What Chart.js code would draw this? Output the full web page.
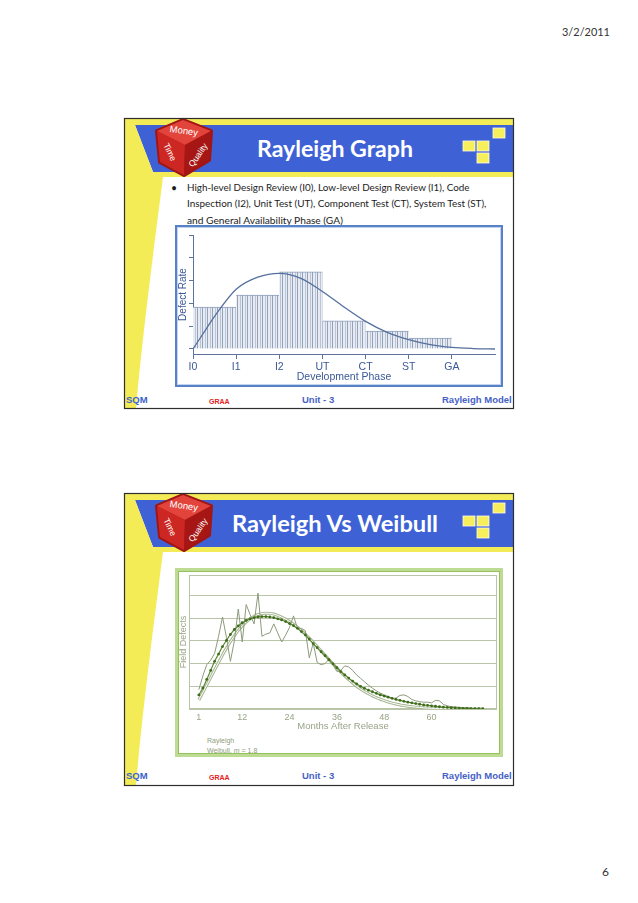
<!DOCTYPE html>
<html>
<head>
<meta charset="utf-8">
<title>Rayleigh Model</title>
<script src="https://cdn.jsdelivr.net/npm/chart.js@4.4.1/dist/chart.umd.min.js"></script>
<style>
html, body { margin:0; padding:0; }
body { width:638px; height:903px; position:relative; overflow:hidden; background:#fff; font-family:Lato, "Open Sans", sans-serif; }
.t { position:absolute; white-space:nowrap; line-height:1; transform:translateY(-50%); }
.c { transform:translate(-50%,-50%); }
.ttl { color:#fff; font-weight:700; font-size:22px; }
.bul { color:#1c1c1c; font-size:10.5px; }
.ft { font-family:"Liberation Sans", Arial, sans-serif; font-weight:700; font-size:9.5px; color:#4661c6; }
.sqm { color:#3a63c8; }
.graa { color:#e3211d; font-size:7px; }
.box { position:absolute; box-sizing:border-box; background:#fff; }
#b1 { left:175px; top:225px; width:328px; height:162px; border:2px solid #5782c7; box-shadow:inset 0 0 0 1px #c4d4ee; }
#b2 { left:175px; top:568px; width:328px; height:189px; border:3px solid #bddb93; box-shadow:inset 0 0 0 1px #93c25b; }
canvas { position:absolute; }
.lg { font-family:"Liberation Sans", Arial, sans-serif; font-size:7px; color:#8f9c7d; }
</style>
</head>
<body>

<svg width="638" height="903" style="position:absolute;left:0;top:0">
  <defs>
    <g id="cube">
      <path d="M28,2 L56,13 L54,42 L29,57 L5,44 L2,13 Z" fill="#b81c1a" stroke="#a01614" stroke-width="4" stroke-linejoin="round"/>
      <path d="M28,2 L56,13 L30,27 L2,13 Z" fill="#e2433a"/>
      <path d="M2,13 L30,27 L29,57 L5,44 Z" fill="#cc2722"/>
      <path d="M30,27 L56,13 L54,42 L29,57 Z" fill="#a51614"/>
      <text x="29" y="16" font-family="Liberation Sans, Arial" font-size="9.5" fill="#fff" text-anchor="middle" transform="rotate(8 29 12)">Money</text>
      <text x="15" y="37" font-family="Liberation Sans, Arial" font-size="8.5" fill="#fff" text-anchor="middle" transform="rotate(64 15 34)">Time</text>
      <text x="43" y="40" font-family="Liberation Sans, Arial" font-size="8.5" fill="#fff" text-anchor="middle" transform="rotate(-55 43 37)">Quality</text>
    </g>
    <g id="squares" fill="#f6ee5a" stroke="#fffbe0" stroke-width="0.8">
      <rect x="493" y="128" width="12" height="10"/>
      <rect x="463" y="141" width="12" height="10"/>
      <rect x="477" y="141" width="12" height="10"/>
      <rect x="477" y="153" width="12" height="10"/>
    </g>
  </defs>

  <!-- slide 1 -->
  <rect x="124.5" y="118.5" width="389" height="290" fill="#fff"/>
  <rect x="125" y="119" width="388" height="6" fill="#f4ec57"/>
  <polygon points="135,125 513,125 513,172 153,172" fill="#3e62d6"/>
  <polygon points="153,172 513,172 513,177 155,177" fill="#f4ec57"/>
  <path d="M125,119 L135,119 L135,125 L153,172 L155,177 L163,177 C155,240 143,330 136,408 L125,408 Z" fill="#f4ec57"/>
  <use href="#squares"/>
  <use href="#cube" x="155" y="118"/>
  <rect x="124.5" y="118.5" width="389" height="290" fill="none" stroke="#2e2e2e" stroke-width="1.2"/>

  <!-- slide 2 -->
  <rect x="124.5" y="493.5" width="389" height="292" fill="#fff"/>
  <rect x="125" y="494" width="388" height="6" fill="#f4ec57"/>
  <polygon points="135,500 513,500 513,547 153,547" fill="#3e62d6"/>
  <polygon points="153,547 513,547 513,552 155,552" fill="#f4ec57"/>
  <path d="M125,494 L135,494 L135,500 L153,547 L155,552 L163,552 C155,615 143,705 136,785 L125,785 Z" fill="#f4ec57"/>
  <use href="#squares" y="375"/>
  <use href="#cube" x="155" y="493"/>
  <rect x="124.5" y="493.5" width="389" height="292" fill="none" stroke="#2e2e2e" stroke-width="1.2"/>

  <!-- legend samples, slide 2 -->
  <line x1="180" y1="740" x2="203" y2="740" stroke="#a8b794" stroke-width="1"/>
  <line x1="180" y1="750" x2="203" y2="750" stroke="#5a8a32" stroke-width="1.2"/>
  <circle cx="191.5" cy="750" r="1.6" fill="#3e6b1c"/>
</svg>

<div class="t" id="date" style="left:562px;top:32px;font-size:12px;color:#333">3/2/2011</div>
<div class="t" id="pnum" style="left:602px;top:872px;font-size:12px;color:#333">6</div>

<!-- slide 1 text -->
<div class="t c ttl" id="title1" style="left:335px;top:149px">Rayleigh Graph</div>
<div class="t bul" style="left:171px;top:188px">•</div>
<div class="t bul" id="l1" style="left:187px;top:188px">High-level Design Review (I0), Low-level Design Review (I1), Code</div>
<div class="t bul" id="l2" style="left:187px;top:204px">Inspection (I2), Unit Test (UT), Component Test (CT), System Test (ST),</div>
<div class="t bul" id="l3" style="left:187px;top:220px">and General Availability Phase (GA)</div>
<div class="box" id="b1"></div>
<canvas id="c1" width="324" height="158" style="left:177px;top:227px;width:324px;height:158px"></canvas>
<div class="t ft sqm" style="left:126px;top:400px">SQM</div>
<div class="t ft graa" style="left:209px;top:401px">GRAA</div>
<div class="t ft" style="left:302px;top:400px">Unit - 3</div>
<div class="t ft" style="left:442px;top:400px">Rayleigh Model</div>

<!-- slide 2 text -->
<div class="t c ttl" id="title2" style="left:335px;top:524px">Rayleigh Vs Weibull</div>
<div class="box" id="b2"></div>
<canvas id="c2" width="323" height="162" style="left:178px;top:571px;width:323px;height:162px"></canvas>
<div class="t lg" style="left:207px;top:740px">Rayleigh</div>
<div class="t lg" style="left:207px;top:750px">Weibull, <i>m</i> = 1.8</div>
<div class="t ft sqm" style="left:126px;top:776px">SQM</div>
<div class="t ft graa" style="left:209px;top:777px">GRAA</div>
<div class="t ft" style="left:302px;top:776px">Unit - 3</div>
<div class="t ft" style="left:442px;top:776px">Rayleigh Model</div>

<script>
// Rayleigh Graph - defect rate by development phase
const phaseLabels = ['I0', 'I1', 'I2', 'UT', 'CT', 'ST', 'GA'];
const phaseMid = [0.5, 1.5, 2.5, 3.5, 4.5, 5.5];
const defectRate = [1.84, 2.37, 3.38, 1.23, 0.79, 0.48];
const curvePhase = [0, 0.25, 0.5, 1, 1.5, 2, 2.5, 3, 3.5, 4, 4.5, 5, 5.5, 6, 6.5, 7];
const curveRate = [0, 0.72, 1.43, 2.62, 3.15, 3.32, 3.1, 2.52, 1.84, 1.21, 0.73, 0.41, 0.19, 0.07, 0.02, 0];
const rateTicks = [0, 1, 2, 3, 4, 5];

// Rayleigh vs Weibull - field defects per month after release
const months = [1, 2, 3, 4, 5, 6, 7, 8, 9, 10, 11, 12, 13, 14, 15, 16, 17, 18, 19, 20,
  21, 22, 23, 24, 25, 26, 27, 28, 29, 30, 31, 32, 33, 34, 35, 36, 37, 38, 39, 40,
  41, 42, 43, 44, 45, 46, 47, 48, 49, 50, 51, 52, 53, 54, 55, 56, 57, 58, 59, 60,
  61, 62, 63, 64, 65, 66, 67, 68, 69, 70, 71, 72, 73];
const monthTicks = [1, 12, 24, 36, 48, 60];
const defectTicks = [0, 1, 2, 3, 4, 5];
const fieldDefects = [0.85, 1.45, 1.95, 2.15, 2.45, 3.2, 4.05, 3.15, 2.1, 3.0,
  4.4, 2.95, 4.6, 4.15, 3.75, 5.1, 3.2, 3.3, 3.35, 3.75,
  3.35, 2.95, 3.25, 3.6, 4.1, 3.55, 3.55, 3.45, 2.25, 2.9,
  2.05, 1.95, 2.0, 2.2, 1.95, 1.65, 1.7, 1.9, 1.85, 1.7,
  1.5, 1.35, 1.2, 1.05, 0.92, 0.8, 0.7, 0.62, 0.55, 0.47,
  0.48, 0.6, 0.62, 0.55, 0.42, 0.36, 0.32, 0.3, 0.3, 0.27,
  0.38, 0.36, 0.2, 0.14, 0.1, 0.09, 0.07, 0.06, 0.05, 0.04];
const rayleigh = [0.40, 0.72, 1.05, 1.38, 1.72, 2.05, 2.38, 2.68, 2.96, 3.22,
  3.46, 3.66, 3.83, 3.97, 4.08, 4.16, 4.20, 4.22, 4.21, 4.18,
  4.12, 4.05, 3.96, 3.85, 3.73, 3.60, 3.45, 3.29, 3.12, 2.94,
  2.75, 2.56, 2.37, 2.18, 1.99, 1.80, 1.62, 1.45, 1.29, 1.14,
  1.00, 0.88, 0.77, 0.67, 0.58, 0.50, 0.43, 0.37, 0.31, 0.26,
  0.22, 0.18, 0.15, 0.12, 0.10, 0.08, 0.07, 0.05, 0.04, 0.03,
  0.03, 0.02, 0.02, 0.01, 0.01, 0.01, 0.01, 0, 0, 0, 0, 0, 0];
const weibull = [0.62, 0.92, 1.30, 1.70, 2.10, 2.42, 2.75, 3.02, 3.28, 3.50,
  3.66, 3.80, 3.90, 3.97, 4.02, 4.05, 4.07, 4.07, 4.05, 4.02,
  3.97, 3.92, 3.85, 3.76, 3.67, 3.55, 3.41, 3.26, 3.08, 2.88,
  2.70, 2.52, 2.35, 2.17, 1.99, 1.82, 1.65, 1.50, 1.36, 1.23,
  1.11, 1.00, 0.91, 0.83, 0.76, 0.69, 0.62, 0.57, 0.52, 0.47,
  0.42, 0.38, 0.34, 0.30, 0.27, 0.24, 0.21, 0.18, 0.16, 0.14,
  0.12, 0.10, 0.08, 0.07, 0.06, 0.05, 0.04, 0.03, 0.03, 0.02, 0.02, 0.01, 0.01];

// squeeze texts to the widths measured on the slide
function fitWidth(id, w) {
  const el = document.getElementById(id);
  const r = el.getBoundingClientRect().width;
  el.style.fontSize = (parseFloat(getComputedStyle(el).fontSize) * w / r) + 'px';
}
fitWidth('title1', 156);
fitWidth('title2', 206);
fitWidth('l1', 283);
fitWidth('l2', 300);
fitWidth('l3', 156);
fitWidth('date', 48);

const blueAxis = '#5f729c';
const blueText = '#3b5896';

const ctx1 = document.getElementById('c1').getContext('2d');
const tile = document.createElement('canvas');
tile.width = 5; tile.height = 8;
const tg = tile.getContext('2d');
tg.fillStyle = '#e8ecf2'; tg.fillRect(0, 0, 5, 8);
tg.fillStyle = '#93a2bc'; tg.fillRect(0, 0, 1, 8);
tg.fillStyle = '#bac5d6'; tg.fillRect(3, 0, 1, 8);
const hatch = ctx1.createPattern(tile, 'repeat');

new Chart(ctx1, {
  type: 'bar',
  data: {
    datasets: [{
      type: 'line',
      data: curvePhase.map((x, i) => ({ x: x, y: curveRate[i] })),
      borderColor: '#55709f',
      borderWidth: 1.3,
      pointRadius: 0,
      cubicInterpolationMode: 'monotone',
      fill: false
    }, {
      type: 'bar',
      data: phaseMid.map((x, i) => ({ x: x, y: defectRate[i] })),
      backgroundColor: hatch,
      borderColor: '#8e9fbd',
      borderWidth: { top: 1, left: 0, right: 0, bottom: 0 },
      borderSkipped: false,
      barPercentage: 1,
      categoryPercentage: 1
    }]
  },
  options: {
    responsive: false,
    animation: false,
    layout: { padding: { top: 8, right: 6, left: 0, bottom: 0 } },
    plugins: { legend: { display: false }, tooltip: { enabled: false } },
    scales: {
      x: {
        type: 'linear', min: 0, max: 7, offset: false,
        afterBuildTicks: s => { s.ticks = phaseLabels.map((_, i) => ({ value: i })); },
        afterFit: s => { s.height = 31; },
        ticks: {
          callback: (v, i) => phaseLabels[i],
          color: blueText, font: { family: 'Liberation Sans', size: 10.5 },
          padding: 2, maxRotation: 0, autoSkip: false
        },
        grid: { drawOnChartArea: false, tickLength: 5, color: blueAxis, offset: false },
        border: { color: blueAxis },
        title: {
          display: true, text: 'Development Phase', color: blueText,
          font: { family: 'Liberation Sans', size: 10.5 }, padding: { top: 0, bottom: 2 }
        }
      },
      y: {
        min: -0.22, max: 5,
        afterBuildTicks: s => { s.ticks = rateTicks.map(v => ({ value: v })); },
        afterFit: s => { s.width = 16; },
        ticks: { display: false },
        grid: { drawOnChartArea: false, tickLength: 4, color: blueAxis },
        border: { color: blueAxis },
        title: {
          display: true, text: 'Defect Rate', color: blueText,
          font: { family: 'Liberation Sans', size: 10 }, padding: 0
        }
      }
    }
  }
});

const greenText = '#98a487';
const greenGrid = '#bac4a8';

const framePlugin = {
  id: 'frame',
  beforeDatasetsDraw(chart) {
    const a = chart.chartArea, c = chart.ctx;
    c.save();
    c.strokeStyle = greenGrid;
    c.lineWidth = 1;
    c.strokeRect(a.left + 0.5, a.top + 0.5, a.width - 1, a.height - 1);
    c.restore();
  }
};

new Chart(document.getElementById('c2'), {
  type: 'line',
  data: {
    datasets: [{
      label: 'Weibull, m = 1.8',
      data: months.map((m, i) => ({ x: m, y: weibull[i] })),
      borderColor: '#5a8a32',
      borderWidth: 1.2,
      pointRadius: 1.4,
      pointBorderWidth: 0,
      pointBackgroundColor: '#3e6b1c',
      cubicInterpolationMode: 'monotone'
    }, {
      label: 'Actual',
      data: fieldDefects.map((v, i) => ({ x: months[i], y: v })),
      borderColor: '#8d9a7b',
      borderWidth: 1,
      pointRadius: 0,
      tension: 0
    }, {
      label: 'Rayleigh core',
      data: months.map((m, i) => ({ x: m, y: rayleigh[i] })),
      borderColor: '#ffffff',
      borderWidth: 1,
      pointRadius: 0,
      cubicInterpolationMode: 'monotone'
    }, {
      label: 'Rayleigh',
      data: months.map((m, i) => ({ x: m, y: rayleigh[i] })),
      borderColor: '#a8b794',
      borderWidth: 3,
      pointRadius: 0,
      cubicInterpolationMode: 'monotone'
    }]
  },
  options: {
    responsive: false,
    animation: false,
    layout: { padding: { top: 1, right: 1, left: 0, bottom: 0 } },
    plugins: { legend: { display: false }, tooltip: { enabled: false } },
    scales: {
      x: {
        type: 'linear', min: -1.5, max: 76.6,
        afterBuildTicks: s => { s.ticks = monthTicks.map(v => ({ value: v })); },
        afterFit: s => { s.height = 24; },
        ticks: { color: greenText, font: { family: 'Liberation Sans', size: 9 }, padding: 3, maxRotation: 0, autoSkip: false },
        grid: { display: false, drawTicks: false, tickLength: 0 },
        border: { display: false },
        title: {
          display: true, text: 'Months After Release', color: greenText,
          font: { family: 'Liberation Sans', size: 9.5 }, padding: { top: 0, bottom: 1 }
        }
      },
      y: {
        min: 0, max: 5.9,
        afterBuildTicks: s => { s.ticks = defectTicks.map(v => ({ value: v })); },
        afterFit: s => { s.width = 11; },
        ticks: { display: false },
        grid: { color: greenGrid, drawTicks: false },
        border: { color: greenGrid },
        title: {
          display: true, text: 'Field Defects', color: greenText,
          font: { family: 'Liberation Sans', size: 9 }, padding: 0
        }
      }
    }
  },
  plugins: [framePlugin]
});
</script>
</body>
</html>
